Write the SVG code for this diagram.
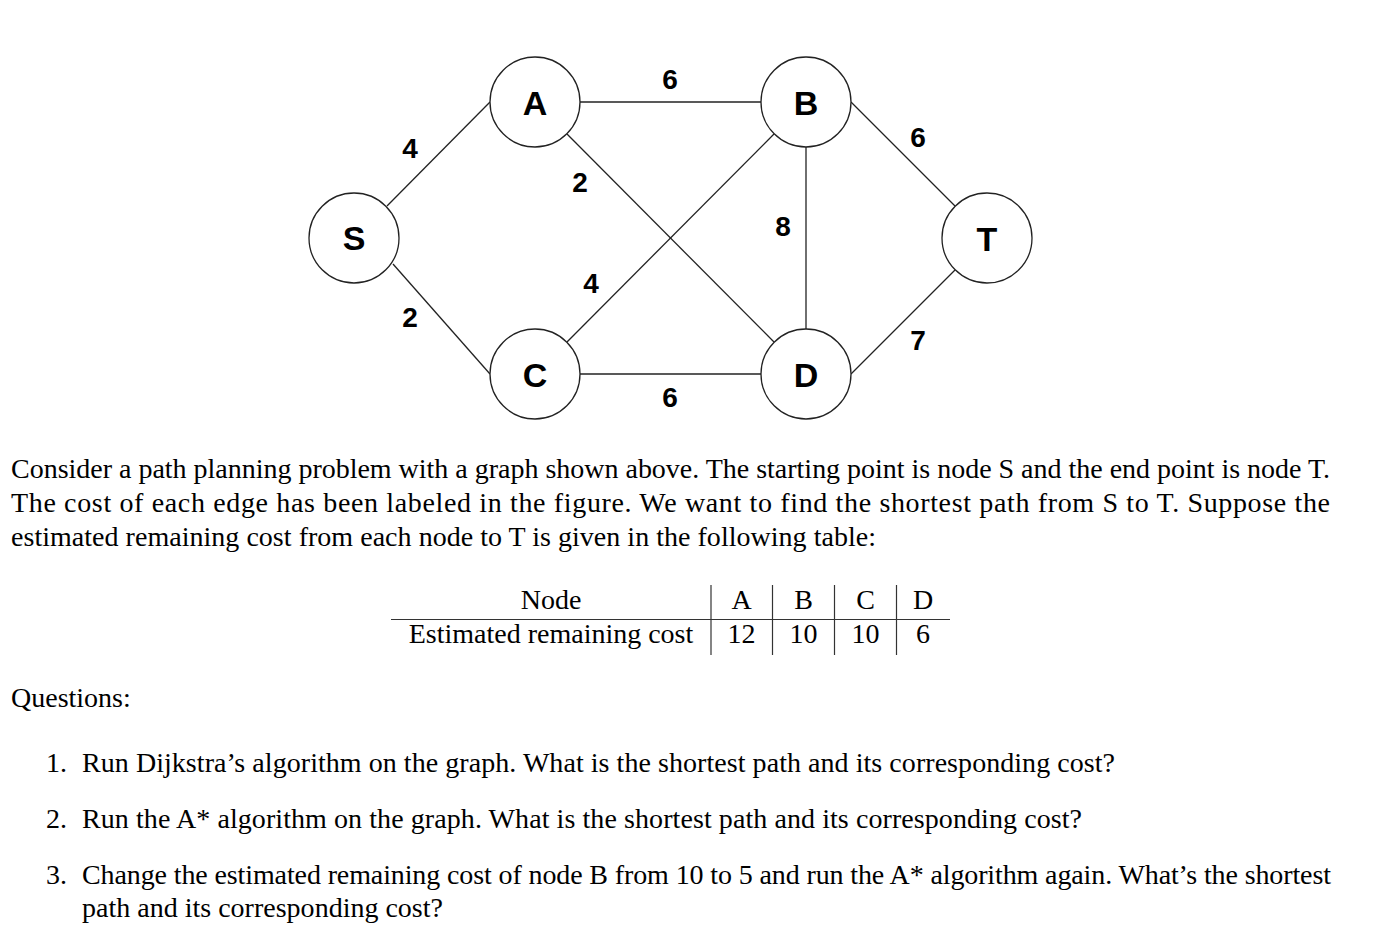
<svg xmlns="http://www.w3.org/2000/svg" width="1373" height="944" viewBox="0 0 1373 944">
<style>
.node{fill:#fff;stroke:#222;stroke-width:1.3}
.edge{stroke:#222;stroke-width:1.3;fill:none}
.nl{font-family:"Liberation Sans",Arial,sans-serif;font-weight:bold;font-size:34px;text-anchor:middle;fill:#000}
.el{font-family:"Liberation Sans",Arial,sans-serif;font-weight:bold;font-size:28px;text-anchor:middle;fill:#000}
.t{font-family:"Liberation Serif","Times New Roman",serif;font-size:28px;fill:#000}
.tc{font-family:"Liberation Serif","Times New Roman",serif;font-size:28px;fill:#000;text-anchor:middle}
.rule{stroke:#333;stroke-width:1.2}
</style>
<rect width="1373" height="944" fill="#fff"/>
<g id="connectors">
<line class="edge" x1="387" y1="206" x2="490" y2="102"/>
<line class="edge" x1="393" y1="264" x2="490" y2="374"/>
<line class="edge" x1="580" y1="102" x2="761" y2="102"/>
<line class="edge" x1="580" y1="374" x2="761" y2="374"/>
<line class="edge" x1="567" y1="134" x2="774" y2="342"/>
<line class="edge" x1="567" y1="342" x2="774" y2="134"/>
<line class="edge" x1="806" y1="147" x2="806" y2="329"/>
<line class="edge" x1="851" y1="102" x2="955" y2="206"/>
<line class="edge" x1="851" y1="374" x2="955" y2="270"/>
<text class="el" x="670" y="88.5">6</text>
<text class="el" x="410" y="158">4</text>
<text class="el" x="580" y="192">2</text>
<text class="el" x="591" y="293">4</text>
<text class="el" x="410" y="327">2</text>
<text class="el" x="670" y="407">6</text>
<text class="el" x="918" y="147">6</text>
<text class="el" x="783" y="236">8</text>
<text class="el" x="918" y="350">7</text>
</g>
<g id="node-S"><circle class="node" cx="354" cy="238" r="45"/><text class="nl" x="354" y="250">S</text></g>
<g id="node-A"><circle class="node" cx="535" cy="102" r="45"/><text class="nl" x="535" y="114.5">A</text></g>
<g id="node-B"><circle class="node" cx="806" cy="102" r="45"/><text class="nl" x="806" y="114.5">B</text></g>
<g id="node-C"><circle class="node" cx="535" cy="374" r="45"/><text class="nl" x="535" y="386.5">C</text></g>
<g id="node-D"><circle class="node" cx="806" cy="374" r="45"/><text class="nl" x="806" y="386.5">D</text></g>
<g id="node-T"><circle class="node" cx="987" cy="238" r="45"/><text class="nl" x="987" y="250.5">T</text></g>
<g id="text">
<text class="t" x="11" y="478" textLength="1319" lengthAdjust="spacing">Consider a path planning problem with a graph shown above. The starting point is node S and the end point is node T.</text>
<text class="t" x="11" y="512" textLength="1319" lengthAdjust="spacing">The cost of each edge has been labeled in the figure.  We want to find the shortest path from S to T. Suppose the</text>
<text class="t" x="11" y="546" textLength="865" lengthAdjust="spacing">estimated remaining cost from each node to T is given in the following table:</text>
</g>
<g id="table">
<line class="rule" x1="391" y1="619.5" x2="950" y2="619.5"/>
<line class="rule" x1="711" y1="585" x2="711" y2="655"/>
<line class="rule" x1="772.5" y1="585" x2="772.5" y2="655"/>
<line class="rule" x1="834.5" y1="585" x2="834.5" y2="655"/>
<line class="rule" x1="896.5" y1="585" x2="896.5" y2="655"/>
<text class="tc" x="551" y="609">Node</text>
<text class="tc" x="741.5" y="609">A</text>
<text class="tc" x="803.5" y="609">B</text>
<text class="tc" x="865.5" y="609">C</text>
<text class="tc" x="923" y="609">D</text>
<text class="tc" x="551" y="643">Estimated remaining cost</text>
<text class="tc" x="741.5" y="643">12</text>
<text class="tc" x="803.5" y="643">10</text>
<text class="tc" x="865.5" y="643">10</text>
<text class="tc" x="923" y="643">6</text>
</g>
<g id="questions">
<text class="t" x="11" y="707">Questions:</text>
<text class="t" x="46" y="772">1.</text>
<text class="t" x="82" y="772" textLength="1033" lengthAdjust="spacing">Run Dijkstra’s algorithm on the graph. What is the shortest path and its corresponding cost?</text>
<text class="t" x="46" y="828">2.</text>
<text class="t" x="82" y="828" textLength="1000" lengthAdjust="spacing">Run the A* algorithm on the graph. What is the shortest path and its corresponding cost?</text>
<text class="t" x="46" y="884">3.</text>
<text class="t" x="82" y="884" textLength="1249" lengthAdjust="spacing">Change the estimated remaining cost of node B from 10 to 5 and run the A* algorithm again. What’s the shortest</text>
<text class="t" x="82" y="917" textLength="361" lengthAdjust="spacing">path and its corresponding cost?</text>
</g>
</svg>
